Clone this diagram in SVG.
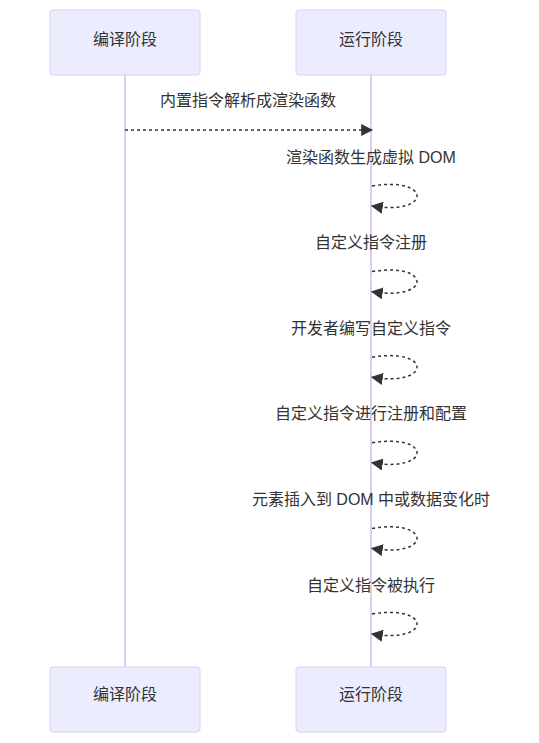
<svg xmlns="http://www.w3.org/2000/svg" width="539" height="743" viewBox="0 0 539 743">
<style>
.actor{fill:#ECECFF;stroke:#DACEF2;stroke-width:1;}
.life{stroke:#DACEF2;stroke-width:2;}
.t{font-family:"Liberation Sans","Noto Sans CJK SC",sans-serif;font-size:16px;fill:#333;text-anchor:middle;dominant-baseline:central;}
.msg{fill:none;stroke:#333;stroke-width:1.5;stroke-dasharray:3,3;}
</style>
<defs>
<marker id="ah" viewBox="0 0 10 10" refX="9" refY="5" markerUnits="userSpaceOnUse" markerWidth="12" markerHeight="12" orient="auto">
<path d="M0,0 L10,5 L0,10 z" fill="#333"/>
</marker>
</defs>
<rect width="539" height="743" fill="#fff"/>
<g id="lifelines">
<line class="life" x1="125" y1="75" x2="125" y2="667"/>
<line class="life" x1="371" y1="75" x2="371" y2="667"/>
</g>
<g id="actor-compile-top">
<rect class="actor" x="50" y="10" width="150" height="65" rx="3"/>
<text class="t" x="125" y="39">编译阶段</text>
</g>
<g id="actor-runtime-top">
<rect class="actor" x="296" y="10" width="150" height="65" rx="3"/>
<text class="t" x="371" y="39">运行阶段</text>
</g>
<g id="actor-compile-bottom">
<rect class="actor" x="50" y="667" width="150" height="65" rx="3"/>
<text class="t" x="125" y="694.5">编译阶段</text>
</g>
<g id="actor-runtime-bottom">
<rect class="actor" x="296" y="667" width="150" height="65" rx="3"/>
<text class="t" x="371" y="694.5">运行阶段</text>
</g>
<g id="connectors">
<path class="msg" d="M125,130 L372,130" marker-end="url(#ah)"/>
<path class="msg" d="M372,186 C432,176 432,216 372,206" marker-end="url(#ah)"/>
<path class="msg" d="M372,271.6 C432,261.6 432,301.6 372,291.6" marker-end="url(#ah)"/>
<path class="msg" d="M372,357.2 C432,347.2 432,387.2 372,377.2" marker-end="url(#ah)"/>
<path class="msg" d="M372,442.8 C432,432.8 432,472.8 372,462.8" marker-end="url(#ah)"/>
<path class="msg" d="M372,528.4 C432,518.4 432,558.4 372,548.4" marker-end="url(#ah)"/>
<path class="msg" d="M372,614 C432,604 432,644 372,634" marker-end="url(#ah)"/>
</g>
<g id="labels">
<text class="t" x="248" y="100">内置指令解析成渲染函数</text>
<text class="t" x="371" y="157">渲染函数生成虚拟 DOM</text>
<text class="t" x="371" y="242.6">自定义指令注册</text>
<text class="t" x="371" y="328.2">开发者编写自定义指令</text>
<text class="t" x="371" y="413.8">自定义指令进行注册和配置</text>
<text class="t" x="371" y="499.4">元素插入到 DOM 中或数据变化时</text>
<text class="t" x="371" y="585">自定义指令被执行</text>
</g>
</svg>
